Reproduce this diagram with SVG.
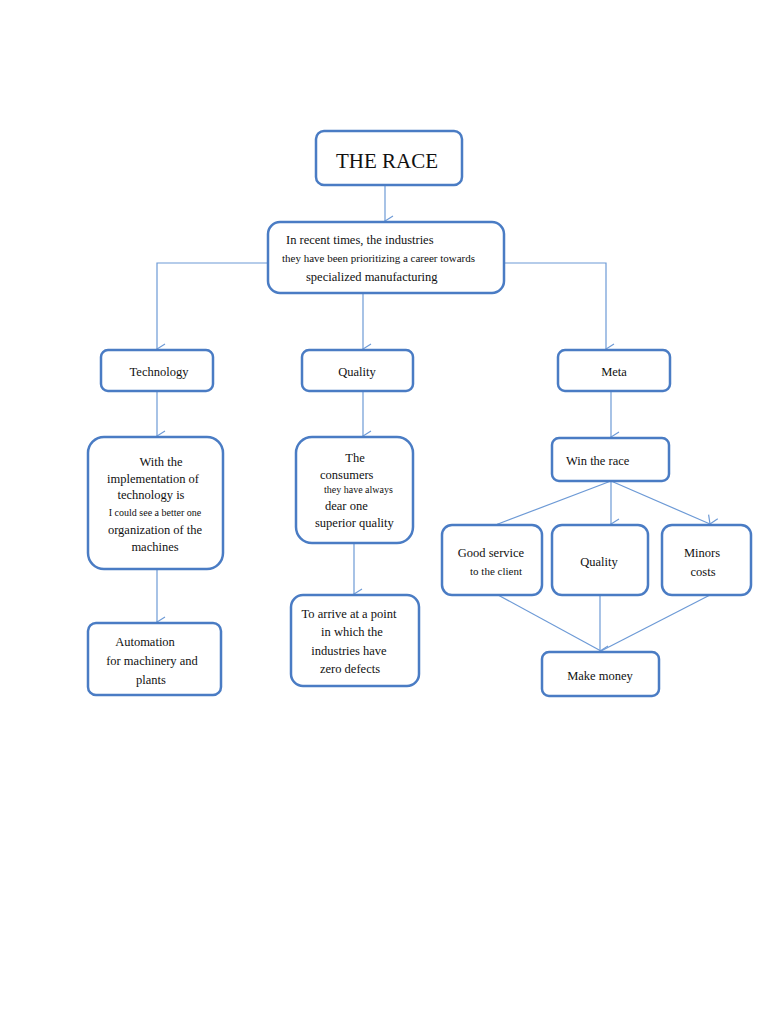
<svg xmlns="http://www.w3.org/2000/svg" width="768" height="1024" viewBox="0 0 768 1024">
<style>
.n{fill:#fff;stroke:#4a7cc4;stroke-width:2.5}
.c{fill:none;stroke:#6d9ad6;stroke-width:1.2}
text{font-family:"Liberation Serif",serif;font-size:12.5px;fill:#111}
.s{font-size:10px}
</style>
<defs><marker id="a" markerWidth="12" markerHeight="10" refX="6" refY="9" orient="auto" markerUnits="userSpaceOnUse" viewBox="0 0 12 10"><path d="M1,1 L6,9 L11,1" fill="none" stroke="#6d9ad6" stroke-width="1.2"/></marker></defs>
<rect width="768" height="1024" fill="#fff"/>
<g id="connectors">
<path class="c" d="M385,185V221" marker-end="url(#a)"/>
<path class="c" d="M268,263H157V349" marker-end="url(#a)"/>
<path class="c" d="M504,263H606V349" marker-end="url(#a)"/>
<path class="c" d="M363,293V349" marker-end="url(#a)"/>
<path class="c" d="M157,391V436" marker-end="url(#a)"/>
<path class="c" d="M363,391V436" marker-end="url(#a)"/>
<path class="c" d="M611,391V437" marker-end="url(#a)"/>
<path class="c" d="M157,569V622" marker-end="url(#a)"/>
<path class="c" d="M354,543V594" marker-end="url(#a)"/>
<path class="c" d="M611,481L498,524" marker-end="url(#a)"/>
<path class="c" d="M611,481V524" marker-end="url(#a)"/>
<path class="c" d="M611,481L710,524" marker-end="url(#a)"/>
<path class="c" d="M498,595L601,651"/>
<path class="c" d="M600,595V651" marker-end="url(#a)"/>
<path class="c" d="M710,595L601,651"/>
</g>
<g id="race"><rect class="n" x="316" y="131" width="146" height="54" rx="8"/><text x="387" y="168" text-anchor="middle" style="font-size:21px">THE RACE</text></g>
<g id="top"><rect class="n" x="268" y="222" width="236" height="71" rx="12"/>
<text x="286" y="244">In recent times, the industries</text>
<text x="282" y="262" class="s" style="font-size:11px">they have been prioritizing a career towards</text>
<text x="306" y="281">specialized manufacturing</text></g>
<g id="tech"><rect class="n" x="101" y="350" width="112" height="41" rx="7"/><text x="159" y="376" text-anchor="middle">Technology</text></g>
<g id="quality"><rect class="n" x="302" y="350" width="111" height="41" rx="7"/><text x="357" y="376" text-anchor="middle">Quality</text></g>
<g id="meta"><rect class="n" x="558" y="350" width="112" height="41" rx="7"/><text x="614" y="376" text-anchor="middle">Meta</text></g>
<g id="techd"><rect class="n" x="88" y="437" width="135" height="132" rx="16"/>
<text x="161" y="466" text-anchor="middle">With the</text>
<text x="153" y="483" text-anchor="middle">implementation of</text>
<text x="151" y="499" text-anchor="middle">technology is</text>
<text x="155" y="516" text-anchor="middle" class="s">I could see a better one</text>
<text x="155" y="534" text-anchor="middle">organization of the</text>
<text x="155" y="551" text-anchor="middle">machines</text></g>
<g id="qualityd"><rect class="n" x="296" y="437" width="117" height="106" rx="16"/>
<text x="355" y="462" text-anchor="middle">The</text>
<text x="320" y="479">consumers</text>
<text x="324" y="493" class="s">they have always</text>
<text x="325" y="510">dear one</text>
<text x="315" y="527">superior quality</text></g>
<g id="win"><rect class="n" x="552" y="438" width="117" height="43" rx="7"/><text x="566" y="465">Win the race</text></g>
<g id="auto"><rect class="n" x="88" y="623" width="133" height="72" rx="8"/>
<text x="145" y="646" text-anchor="middle">Automation</text>
<text x="152" y="665" text-anchor="middle">for machinery and</text>
<text x="151" y="684" text-anchor="middle">plants</text></g>
<g id="arrive"><rect class="n" x="291" y="595" width="128" height="91" rx="12"/>
<text x="349" y="618" text-anchor="middle">To arrive at a point</text>
<text x="352" y="636" text-anchor="middle">in which the</text>
<text x="349" y="655" text-anchor="middle">industries have</text>
<text x="350" y="673" text-anchor="middle">zero defects</text></g>
<g id="good"><rect class="n" x="442" y="525" width="100" height="70" rx="10"/>
<text x="491" y="557" text-anchor="middle">Good service</text>
<text x="496" y="575" text-anchor="middle" style="font-size:11px">to the client</text></g>
<g id="quality2"><rect class="n" x="552" y="525" width="96" height="70" rx="10"/><text x="599" y="566" text-anchor="middle">Quality</text></g>
<g id="minors"><rect class="n" x="662" y="525" width="89" height="70" rx="10"/>
<text x="702" y="557" text-anchor="middle">Minors</text>
<text x="703" y="576" text-anchor="middle">costs</text></g>
<g id="money"><rect class="n" x="542" y="652" width="117" height="44" rx="7"/><text x="600" y="680" text-anchor="middle">Make money</text></g>
</svg>
